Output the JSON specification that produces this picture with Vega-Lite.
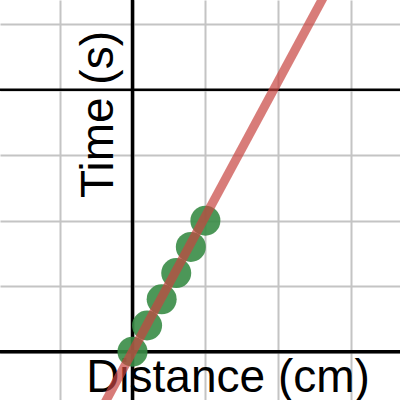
{
  "$schema": "https://vega.github.io/schema/vega-lite/v6.json",
  "width": 400,
  "height": 400,
  "autosize": "none",
  "padding": 0,
  "config": {"view": {"stroke": null}},
  "datasets": {
    "points": [
      {"distance": 0, "time": 0},
      {"distance": 0.2, "time": 0.4},
      {"distance": 0.4, "time": 0.8},
      {"distance": 0.6, "time": 1.2},
      {"distance": 0.8, "time": 1.6},
      {"distance": 1.0, "time": 2.0}
    ],
    "fit": [
      {"distance": -0.5, "time": -1.03},
      {"distance": 3.0, "time": 6.2}
    ],
    "xaxis": [{"distance": 0}],
    "yaxis": [{"time": 0}],
    "yline": [{"time": 4}]
  },
  "layer": [
    {
      "data": {"name": "points"},
      "mark": {"type": "point", "opacity": 0},
      "encoding": {
        "x": {
          "field": "distance", "type": "quantitative",
          "scale": {"domain": [-1.8176, 3.6694], "nice": false, "zero": false},
          "axis": {
            "values": [-1, 0, 1, 2, 3], "grid": true, "gridColor": "#c4c4c4", "gridWidth": 2,
            "domain": false, "ticks": false, "labels": false,
            "title": "Distance (cm)", "titleFont": "Liberation Sans", "titleFontSize": 46,
            "titleFontWeight": "normal", "titleColor": "#000000",
            "titleX": 227.5, "titleY": -8.3, "titleAlign": "center", "titleBaseline": "alphabetic", "titleAngle": 0
          }
        },
        "y": {
          "field": "time", "type": "quantitative",
          "scale": {"domain": [-0.738, 5.371], "nice": false, "zero": false},
          "axis": {
            "values": [0, 1, 2, 3, 4, 5], "grid": true, "gridColor": "#c4c4c4", "gridWidth": 2,
            "domain": false, "ticks": false, "labels": false,
            "title": "Time (s)", "titleFont": "Liberation Sans", "titleFontSize": 46,
            "titleFontWeight": "normal", "titleColor": "#000000",
            "titleX": 112.7, "titleY": 114, "titleAlign": "center", "titleBaseline": "alphabetic", "titleAngle": 270
          }
        }
      }
    },
    {
      "data": {"name": "xaxis"},
      "mark": {"type": "rule", "color": "#000000", "strokeWidth": 3.5},
      "encoding": {"x": {"field": "distance", "type": "quantitative"}}
    },
    {
      "data": {"name": "yaxis"},
      "mark": {"type": "rule", "color": "#000000", "strokeWidth": 3.5},
      "encoding": {"y": {"field": "time", "type": "quantitative"}}
    },
    {
      "data": {"name": "yline"},
      "mark": {"type": "rule", "color": "#000000", "strokeWidth": 2.5},
      "encoding": {"y": {"field": "time", "type": "quantitative"}}
    },
    {
      "data": {"name": "points"},
      "mark": {"type": "circle", "color": "#388c46", "opacity": 0.9, "size": 900},
      "encoding": {
        "x": {"field": "distance", "type": "quantitative"},
        "y": {"field": "time", "type": "quantitative"}
      }
    },
    {
      "data": {"name": "fit"},
      "mark": {"type": "line", "color": "#c74440", "opacity": 0.7, "strokeWidth": 9, "clip": true},
      "encoding": {
        "x": {"field": "distance", "type": "quantitative"},
        "y": {"field": "time", "type": "quantitative"}
      }
    }
  ]
}
